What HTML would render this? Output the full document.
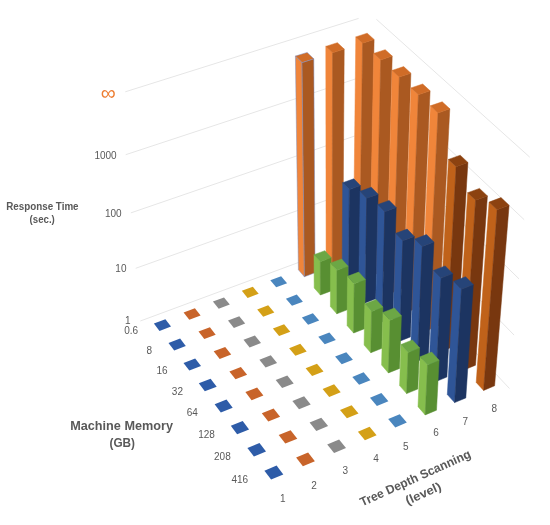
<!DOCTYPE html><html><head><meta charset="utf-8"><title>chart</title><style>html,body{margin:0;padding:0;background:#fff}svg{display:block}</style></head><body><svg width="550" height="525" viewBox="0 0 550 525">
<rect width="550" height="525" fill="#ffffff"/>
<line x1="140.3" y1="321.0" x2="355.8" y2="241.3" stroke="#e6e6e6" stroke-width="1"/>
<line x1="372.0" y1="242.3" x2="509.5" y2="388.5" stroke="#e6e6e6" stroke-width="1"/>
<line x1="135.7" y1="268.3" x2="356.5" y2="189.5" stroke="#e6e6e6" stroke-width="1"/>
<line x1="373.0" y1="190.5" x2="514.1" y2="335.1" stroke="#e6e6e6" stroke-width="1"/>
<line x1="130.8" y1="212.9" x2="357.1" y2="135.2" stroke="#e6e6e6" stroke-width="1"/>
<line x1="374.1" y1="136.2" x2="519.0" y2="278.9" stroke="#e6e6e6" stroke-width="1"/>
<line x1="125.7" y1="154.7" x2="357.8" y2="78.2" stroke="#e6e6e6" stroke-width="1"/>
<line x1="375.2" y1="79.2" x2="524.2" y2="219.7" stroke="#e6e6e6" stroke-width="1"/>
<line x1="125.3" y1="91.8" x2="358.6" y2="18.4" stroke="#e6e6e6" stroke-width="1"/>
<line x1="376.4" y1="19.3" x2="529.7" y2="157.1" stroke="#e6e6e6" stroke-width="1"/>
<polygon points="153.9,323.5 159.5,330.9 171.0,326.6 165.4,319.2" fill="#2e5ca8" />
<polygon points="168.5,342.9 174.2,350.5 185.8,346.1 180.1,338.6" fill="#2e5ca8" />
<polygon points="183.5,362.9 189.3,370.6 201.0,366.1 195.2,358.4" fill="#2e5ca8" />
<polygon points="198.8,383.3 204.8,391.3 216.7,386.7 210.6,378.7" fill="#2e5ca8" />
<polygon points="214.6,404.3 220.8,412.5 232.7,407.8 226.5,399.6" fill="#2e5ca8" />
<polygon points="230.8,425.8 237.1,434.3 249.1,429.4 242.7,421.0" fill="#2e5ca8" />
<polygon points="247.4,448.0 253.9,456.6 266.0,451.6 259.5,443.0" fill="#2e5ca8" />
<polygon points="264.4,470.7 271.1,479.6 283.3,474.4 276.6,465.6" fill="#2e5ca8" />
<polygon points="183.6,312.4 189.3,319.7 200.6,315.5 194.9,308.2" fill="#c8642a" />
<polygon points="198.5,331.6 204.3,339.1 215.7,334.8 209.9,327.3" fill="#c8642a" />
<polygon points="213.7,351.3 219.7,358.9 231.2,354.5 225.2,346.9" fill="#c8642a" />
<polygon points="229.4,371.4 235.5,379.3 247.1,374.7 240.9,366.9" fill="#c8642a" />
<polygon points="245.4,392.1 251.6,400.2 263.4,395.5 257.1,387.5" fill="#c8642a" />
<polygon points="261.8,413.3 268.3,421.6 280.1,416.8 273.6,408.6" fill="#c8642a" />
<polygon points="278.7,435.1 285.3,443.6 297.3,438.7 290.6,430.2" fill="#c8642a" />
<polygon points="296.1,457.5 302.9,466.3 314.9,461.2 308.1,452.5" fill="#c8642a" />
<polygon points="212.9,301.6 218.7,308.8 229.8,304.6 224.0,297.4" fill="#8a8a8a" />
<polygon points="228.0,320.5 233.9,327.9 245.2,323.6 239.3,316.2" fill="#8a8a8a" />
<polygon points="243.5,339.8 249.6,347.4 261.0,343.0 254.9,335.5" fill="#8a8a8a" />
<polygon points="259.4,359.7 265.6,367.5 277.1,363.0 270.8,355.3" fill="#8a8a8a" />
<polygon points="275.7,380.1 282.1,388.1 293.7,383.4 287.3,375.5" fill="#8a8a8a" />
<polygon points="292.4,401.0 299.0,409.2 310.7,404.4 304.1,396.3" fill="#8a8a8a" />
<polygon points="309.6,422.5 316.3,430.9 328.1,426.0 321.3,417.7" fill="#8a8a8a" />
<polygon points="327.2,444.5 334.1,453.1 346.0,448.1 339.1,439.6" fill="#8a8a8a" />
<polygon points="241.8,290.8 247.6,297.9 258.7,293.8 252.8,286.8" fill="#d4a017" />
<polygon points="257.2,309.5 263.2,316.8 274.3,312.5 268.2,305.3" fill="#d4a017" />
<polygon points="272.9,328.6 279.1,336.1 290.3,331.7 284.1,324.3" fill="#d4a017" />
<polygon points="289.1,348.2 295.4,355.8 306.7,351.4 300.3,343.8" fill="#d4a017" />
<polygon points="305.6,368.3 312.1,376.1 323.5,371.6 317.0,363.8" fill="#d4a017" />
<polygon points="322.6,388.9 329.2,396.9 340.7,392.3 334.1,384.2" fill="#d4a017" />
<polygon points="340.0,410.0 346.9,418.3 358.5,413.5 351.6,405.3" fill="#d4a017" />
<polygon points="357.9,431.7 364.9,440.2 376.6,435.3 369.6,426.8" fill="#d4a017" />
<polygon points="270.3,280.3 276.2,287.3 287.1,283.2 281.1,276.2" fill="#4a86be" />
<polygon points="285.9,298.7 292.0,305.8 302.9,301.7 296.8,294.5" fill="#4a86be" />
<polygon points="301.9,317.5 308.1,324.8 319.2,320.6 312.9,313.3" fill="#4a86be" />
<polygon points="318.3,336.8 324.7,344.3 335.8,340.0 329.4,332.5" fill="#4a86be" />
<polygon points="335.1,356.6 341.7,364.3 352.9,359.8 346.3,352.2" fill="#4a86be" />
<polygon points="352.3,376.9 359.1,384.8 370.4,380.2 363.6,372.3" fill="#4a86be" />
<polygon points="370.0,397.7 376.9,405.9 388.4,401.2 381.4,393.1" fill="#4a86be" />
<polygon points="388.2,419.1 395.3,427.5 406.8,422.6 399.7,414.3" fill="#4a86be" />
<polygon points="353.4,249.4 359.6,256.1 362.6,43.2 355.8,36.9" fill="#f0853a" stroke="#f0853a" stroke-width="0.5" stroke-linejoin="round"/><polygon points="359.6,256.1 370.1,252.2 374.1,39.5 362.6,43.2" fill="#aa5921" stroke="#aa5921" stroke-width="0.5" stroke-linejoin="round"/><polygon points="355.8,36.9 362.6,43.2 374.1,39.5 367.2,33.2" fill="#d06c27" stroke="#d06c27" stroke-width="0.5" stroke-linejoin="round"/>
<polygon points="369.7,267.0 376.1,273.9 380.7,59.9 373.7,53.4" fill="#f0853a" stroke="#f0853a" stroke-width="0.5" stroke-linejoin="round"/><polygon points="376.1,273.9 386.6,269.9 392.2,56.1 380.7,59.9" fill="#aa5921" stroke="#aa5921" stroke-width="0.5" stroke-linejoin="round"/><polygon points="373.7,53.4 380.7,59.9 392.2,56.1 385.2,49.7" fill="#d06c27" stroke="#d06c27" stroke-width="0.5" stroke-linejoin="round"/>
<polygon points="386.4,285.1 392.9,292.2 399.3,77.1 392.1,70.4" fill="#f0853a" stroke="#f0853a" stroke-width="0.5" stroke-linejoin="round"/><polygon points="392.9,292.2 403.5,288.1 410.9,73.2 399.3,77.1" fill="#aa5921" stroke="#aa5921" stroke-width="0.5" stroke-linejoin="round"/><polygon points="392.1,70.4 399.3,77.1 410.9,73.2 403.7,66.6" fill="#d06c27" stroke="#d06c27" stroke-width="0.5" stroke-linejoin="round"/>
<polygon points="403.5,303.6 410.1,310.8 418.4,94.7 411.0,87.9" fill="#f0853a" stroke="#f0853a" stroke-width="0.5" stroke-linejoin="round"/><polygon points="410.1,310.8 420.8,306.6 430.1,90.8 418.4,94.7" fill="#aa5921" stroke="#aa5921" stroke-width="0.5" stroke-linejoin="round"/><polygon points="411.0,87.9 418.4,94.7 430.1,90.8 422.7,84.0" fill="#d06c27" stroke="#d06c27" stroke-width="0.5" stroke-linejoin="round"/>
<polygon points="421.0,322.6 427.8,330.0 438.0,112.9 430.4,105.8" fill="#f0853a" stroke="#f0853a" stroke-width="0.5" stroke-linejoin="round"/><polygon points="427.8,330.0 438.6,325.7 449.8,108.8 438.0,112.9" fill="#aa5921" stroke="#aa5921" stroke-width="0.5" stroke-linejoin="round"/><polygon points="430.4,105.8 438.0,112.9 449.8,108.8 442.2,101.8" fill="#d06c27" stroke="#d06c27" stroke-width="0.5" stroke-linejoin="round"/>
<polygon points="438.9,342.0 446.0,349.6 456.1,166.7 448.5,159.4" fill="#c0621a" stroke="#c0621a" stroke-width="0.5" stroke-linejoin="round"/><polygon points="446.0,349.6 456.8,345.2 467.9,162.4 456.1,166.7" fill="#78370f" stroke="#78370f" stroke-width="0.5" stroke-linejoin="round"/><polygon points="448.5,159.4 456.1,166.7 467.9,162.4 460.2,155.2" fill="#8c4210" stroke="#8c4210" stroke-width="0.5" stroke-linejoin="round"/>
<polygon points="457.3,362.0 464.5,369.7 475.6,200.2 467.7,192.7" fill="#c0621a" stroke="#c0621a" stroke-width="0.5" stroke-linejoin="round"/><polygon points="464.5,369.7 475.5,365.2 487.4,195.9 475.6,200.2" fill="#78370f" stroke="#78370f" stroke-width="0.5" stroke-linejoin="round"/><polygon points="467.7,192.7 475.6,200.2 487.4,195.9 479.5,188.4" fill="#8c4210" stroke="#8c4210" stroke-width="0.5" stroke-linejoin="round"/>
<polygon points="476.2,382.4 483.6,390.4 497.1,209.8 489.1,202.1" fill="#c0621a" stroke="#c0621a" stroke-width="0.5" stroke-linejoin="round"/><polygon points="483.6,390.4 494.6,385.8 509.1,205.3 497.1,209.8" fill="#78370f" stroke="#78370f" stroke-width="0.5" stroke-linejoin="round"/><polygon points="489.1,202.1 497.1,209.8 509.1,205.3 501.0,197.6" fill="#8c4210" stroke="#8c4210" stroke-width="0.5" stroke-linejoin="round"/>
<polygon points="326.1,259.6 332.2,266.4 332.6,52.8 325.8,46.4" fill="#f0853a" stroke="#f0853a" stroke-width="0.5" stroke-linejoin="round"/><polygon points="332.2,266.4 342.8,262.4 344.2,49.1 332.6,52.8" fill="#aa5921" stroke="#aa5921" stroke-width="0.5" stroke-linejoin="round"/><polygon points="325.8,46.4 332.6,52.8 344.2,49.1 337.4,42.7" fill="#d06c27" stroke="#d06c27" stroke-width="0.5" stroke-linejoin="round"/>
<polygon points="342.1,277.4 348.4,284.4 349.3,189.5 342.7,182.7" fill="#2f5597" stroke="#2f5597" stroke-width="0.5" stroke-linejoin="round"/><polygon points="348.4,284.4 359.1,280.4 360.4,185.6 349.3,189.5" fill="#1c3461" stroke="#1c3461" stroke-width="0.5" stroke-linejoin="round"/><polygon points="342.7,182.7 349.3,189.5 360.4,185.6 353.8,178.8" fill="#264478" stroke="#264478" stroke-width="0.5" stroke-linejoin="round"/>
<polygon points="358.6,295.7 365.0,302.9 366.8,198.2 360.1,191.3" fill="#2f5597" stroke="#2f5597" stroke-width="0.5" stroke-linejoin="round"/><polygon points="365.0,302.9 375.8,298.8 378.1,194.2 366.8,198.2" fill="#1c3461" stroke="#1c3461" stroke-width="0.5" stroke-linejoin="round"/><polygon points="360.1,191.3 366.8,198.2 378.1,194.2 371.3,187.2" fill="#264478" stroke="#264478" stroke-width="0.5" stroke-linejoin="round"/>
<polygon points="375.5,314.5 382.1,321.8 384.8,211.7 377.9,204.5" fill="#2f5597" stroke="#2f5597" stroke-width="0.5" stroke-linejoin="round"/><polygon points="382.1,321.8 392.9,317.6 396.2,207.5 384.8,211.7" fill="#1c3461" stroke="#1c3461" stroke-width="0.5" stroke-linejoin="round"/><polygon points="377.9,204.5 384.8,211.7 396.2,207.5 389.2,200.4" fill="#264478" stroke="#264478" stroke-width="0.5" stroke-linejoin="round"/>
<polygon points="392.8,333.8 399.5,341.3 402.9,240.7 395.8,233.3" fill="#2f5597" stroke="#2f5597" stroke-width="0.5" stroke-linejoin="round"/><polygon points="399.5,341.3 410.4,336.9 414.3,236.4 402.9,240.7" fill="#1c3461" stroke="#1c3461" stroke-width="0.5" stroke-linejoin="round"/><polygon points="395.8,233.3 402.9,240.7 414.3,236.4 407.2,229.1" fill="#264478" stroke="#264478" stroke-width="0.5" stroke-linejoin="round"/>
<polygon points="410.5,353.5 417.4,361.2 422.3,246.4 414.9,238.9" fill="#2f5597" stroke="#2f5597" stroke-width="0.5" stroke-linejoin="round"/><polygon points="417.4,361.2 428.4,356.7 433.9,242.1 422.3,246.4" fill="#1c3461" stroke="#1c3461" stroke-width="0.5" stroke-linejoin="round"/><polygon points="414.9,238.9 422.3,246.4 433.9,242.1 426.5,234.6" fill="#264478" stroke="#264478" stroke-width="0.5" stroke-linejoin="round"/>
<polygon points="428.7,373.7 435.8,381.6 441.1,278.1 433.6,270.4" fill="#2f5597" stroke="#2f5597" stroke-width="0.5" stroke-linejoin="round"/><polygon points="435.8,381.6 446.9,377.0 452.7,273.6 441.1,278.1" fill="#1c3461" stroke="#1c3461" stroke-width="0.5" stroke-linejoin="round"/><polygon points="433.6,270.4 441.1,278.1 452.7,273.6 445.2,265.9" fill="#264478" stroke="#264478" stroke-width="0.5" stroke-linejoin="round"/>
<polygon points="447.3,394.5 454.6,402.6 461.5,289.2 453.8,281.3" fill="#2f5597" stroke="#2f5597" stroke-width="0.5" stroke-linejoin="round"/><polygon points="454.6,402.6 465.8,397.9 473.3,284.6 461.5,289.2" fill="#1c3461" stroke="#1c3461" stroke-width="0.5" stroke-linejoin="round"/><polygon points="453.8,281.3 461.5,289.2 473.3,284.6 465.6,276.7" fill="#264478" stroke="#264478" stroke-width="0.5" stroke-linejoin="round"/>
<polygon points="298.4,269.8 304.4,276.8 302.0,62.6 295.4,56.1" fill="#f0853a" stroke="#7f8fc0" stroke-width="0.5" stroke-linejoin="round"/><polygon points="304.4,276.8 315.1,272.7 313.8,58.8 302.0,62.6" fill="#aa5921" stroke="#7f8fc0" stroke-width="0.5" stroke-linejoin="round"/><polygon points="295.4,56.1 302.0,62.6 313.8,58.8 307.2,52.4" fill="#d06c27" stroke="#7f8fc0" stroke-width="0.5" stroke-linejoin="round"/>
<polygon points="314.2,288.0 320.4,295.0 320.3,261.7 314.0,254.7" fill="#86be4d" stroke="#86be4d" stroke-width="0.5" stroke-linejoin="round"/><polygon points="320.4,295.0 331.2,290.9 331.2,257.6 320.3,261.7" fill="#588f32" stroke="#588f32" stroke-width="0.5" stroke-linejoin="round"/><polygon points="314.0,254.7 320.3,261.7 331.2,257.6 324.9,250.7" fill="#6ca745" stroke="#6ca745" stroke-width="0.5" stroke-linejoin="round"/>
<polygon points="330.4,306.5 336.8,313.8 336.9,270.3 330.5,263.1" fill="#86be4d" stroke="#86be4d" stroke-width="0.5" stroke-linejoin="round"/><polygon points="336.8,313.8 347.7,309.6 348.1,266.2 336.9,270.3" fill="#588f32" stroke="#588f32" stroke-width="0.5" stroke-linejoin="round"/><polygon points="330.5,263.1 336.9,270.3 348.1,266.2 341.6,259.0" fill="#6ca745" stroke="#6ca745" stroke-width="0.5" stroke-linejoin="round"/>
<polygon points="347.1,325.6 353.6,333.0 354.2,283.7 347.5,276.3" fill="#86be4d" stroke="#86be4d" stroke-width="0.5" stroke-linejoin="round"/><polygon points="353.6,333.0 364.6,328.7 365.4,279.4 354.2,283.7" fill="#588f32" stroke="#588f32" stroke-width="0.5" stroke-linejoin="round"/><polygon points="347.5,276.3 354.2,283.7 365.4,279.4 358.7,272.1" fill="#6ca745" stroke="#6ca745" stroke-width="0.5" stroke-linejoin="round"/>
<polygon points="364.1,345.1 370.8,352.7 371.6,311.4 364.8,303.8" fill="#86be4d" stroke="#86be4d" stroke-width="0.5" stroke-linejoin="round"/><polygon points="370.8,352.7 381.9,348.3 382.9,307.0 371.6,311.4" fill="#588f32" stroke="#588f32" stroke-width="0.5" stroke-linejoin="round"/><polygon points="364.8,303.8 371.6,311.4 382.9,307.0 376.1,299.5" fill="#6ca745" stroke="#6ca745" stroke-width="0.5" stroke-linejoin="round"/>
<polygon points="381.6,365.1 388.4,372.9 390.0,320.2 382.9,312.5" fill="#86be4d" stroke="#86be4d" stroke-width="0.5" stroke-linejoin="round"/><polygon points="388.4,372.9 399.6,368.4 401.4,315.8 390.0,320.2" fill="#588f32" stroke="#588f32" stroke-width="0.5" stroke-linejoin="round"/><polygon points="382.9,312.5 390.0,320.2 401.4,315.8 394.4,308.0" fill="#6ca745" stroke="#6ca745" stroke-width="0.5" stroke-linejoin="round"/>
<polygon points="399.6,385.6 406.6,393.6 408.1,352.5 401.0,344.5" fill="#86be4d" stroke="#86be4d" stroke-width="0.5" stroke-linejoin="round"/><polygon points="406.6,393.6 417.8,389.0 419.6,347.8 408.1,352.5" fill="#588f32" stroke="#588f32" stroke-width="0.5" stroke-linejoin="round"/><polygon points="401.0,344.5 408.1,352.5 419.6,347.8 412.4,339.9" fill="#6ca745" stroke="#6ca745" stroke-width="0.5" stroke-linejoin="round"/>
<polygon points="418.0,406.7 425.2,414.9 427.5,364.9 420.1,356.8" fill="#86be4d" stroke="#86be4d" stroke-width="0.5" stroke-linejoin="round"/><polygon points="425.2,414.9 436.5,410.2 439.1,360.2 427.5,364.9" fill="#588f32" stroke="#588f32" stroke-width="0.5" stroke-linejoin="round"/><polygon points="420.1,356.8 427.5,364.9 439.1,360.2 431.7,352.1" fill="#6ca745" stroke="#6ca745" stroke-width="0.5" stroke-linejoin="round"/>
<text x="108.2" y="100.3" font-size="21" text-anchor="middle" font-weight="normal" fill="#ed7d31" font-family="Liberation Sans, Arial, sans-serif" >∞</text>
<text x="105.5" y="158.9" font-size="10" text-anchor="middle" font-weight="normal" fill="#595959" font-family="Liberation Sans, Arial, sans-serif" >1000</text>
<text x="113.3" y="216.8" font-size="10" text-anchor="middle" font-weight="normal" fill="#595959" font-family="Liberation Sans, Arial, sans-serif" >100</text>
<text x="120.9" y="272.1" font-size="10" text-anchor="middle" font-weight="normal" fill="#595959" font-family="Liberation Sans, Arial, sans-serif" >10</text>
<text x="127.9" y="324.4" font-size="10" text-anchor="middle" font-weight="normal" fill="#595959" font-family="Liberation Sans, Arial, sans-serif" >1</text>
<text x="131.1" y="334.4" font-size="10" text-anchor="middle" font-weight="normal" fill="#595959" font-family="Liberation Sans, Arial, sans-serif" >0.6</text>
<text x="149.3" y="353.8" font-size="10" text-anchor="middle" font-weight="normal" fill="#595959" font-family="Liberation Sans, Arial, sans-serif" >8</text>
<text x="162.1" y="374.1" font-size="10" text-anchor="middle" font-weight="normal" fill="#595959" font-family="Liberation Sans, Arial, sans-serif" >16</text>
<text x="177.4" y="395.0" font-size="10" text-anchor="middle" font-weight="normal" fill="#595959" font-family="Liberation Sans, Arial, sans-serif" >32</text>
<text x="192.3" y="415.8" font-size="10" text-anchor="middle" font-weight="normal" fill="#595959" font-family="Liberation Sans, Arial, sans-serif" >64</text>
<text x="206.5" y="437.6" font-size="10" text-anchor="middle" font-weight="normal" fill="#595959" font-family="Liberation Sans, Arial, sans-serif" >128</text>
<text x="222.4" y="459.6" font-size="10" text-anchor="middle" font-weight="normal" fill="#595959" font-family="Liberation Sans, Arial, sans-serif" >208</text>
<text x="239.8" y="482.6" font-size="10" text-anchor="middle" font-weight="normal" fill="#595959" font-family="Liberation Sans, Arial, sans-serif" >416</text>
<text x="282.7" y="501.9" font-size="10" text-anchor="middle" font-weight="normal" fill="#595959" font-family="Liberation Sans, Arial, sans-serif" >1</text>
<text x="314.1" y="488.6" font-size="10" text-anchor="middle" font-weight="normal" fill="#595959" font-family="Liberation Sans, Arial, sans-serif" >2</text>
<text x="345.3" y="474.1" font-size="10" text-anchor="middle" font-weight="normal" fill="#595959" font-family="Liberation Sans, Arial, sans-serif" >3</text>
<text x="376.0" y="462.1" font-size="10" text-anchor="middle" font-weight="normal" fill="#595959" font-family="Liberation Sans, Arial, sans-serif" >4</text>
<text x="405.9" y="449.6" font-size="10" text-anchor="middle" font-weight="normal" fill="#595959" font-family="Liberation Sans, Arial, sans-serif" >5</text>
<text x="436.0" y="436.3" font-size="10" text-anchor="middle" font-weight="normal" fill="#595959" font-family="Liberation Sans, Arial, sans-serif" >6</text>
<text x="465.4" y="425.0" font-size="10" text-anchor="middle" font-weight="normal" fill="#595959" font-family="Liberation Sans, Arial, sans-serif" >7</text>
<text x="494.3" y="411.6" font-size="10" text-anchor="middle" font-weight="normal" fill="#595959" font-family="Liberation Sans, Arial, sans-serif" >8</text>
<text x="121.6" y="430.0" font-size="12.3" text-anchor="middle" font-weight="bold" fill="#595959" font-family="Liberation Sans, Arial, sans-serif" textLength="102.8" lengthAdjust="spacingAndGlyphs">Machine Memory</text>
<text x="122.3" y="447.0" font-size="12.3" text-anchor="middle" font-weight="bold" fill="#595959" font-family="Liberation Sans, Arial, sans-serif" textLength="25.5" lengthAdjust="spacingAndGlyphs">(GB)</text>
<text x="42.4" y="209.8" font-size="10.4" text-anchor="middle" font-weight="bold" fill="#595959" font-family="Liberation Sans, Arial, sans-serif" textLength="72.4" lengthAdjust="spacingAndGlyphs">Response Time</text>
<text x="42.2" y="223.2" font-size="10.4" text-anchor="middle" font-weight="bold" fill="#595959" font-family="Liberation Sans, Arial, sans-serif" textLength="25.3" lengthAdjust="spacingAndGlyphs">(sec.)</text>
<g transform="translate(415.3,478) rotate(-24.4)"><text x="0.0" y="4.0" font-size="12.3" text-anchor="middle" font-weight="bold" fill="#595959" font-family="Liberation Sans, Arial, sans-serif" textLength="120.0" lengthAdjust="spacingAndGlyphs">Tree Depth Scanning</text></g>
<g transform="translate(423.3,493.5) rotate(-24.4)"><text x="0.0" y="4.0" font-size="12.3" text-anchor="middle" font-weight="bold" fill="#595959" font-family="Liberation Sans, Arial, sans-serif" textLength="37.7" lengthAdjust="spacingAndGlyphs">(level)</text></g>
</svg></body></html>
